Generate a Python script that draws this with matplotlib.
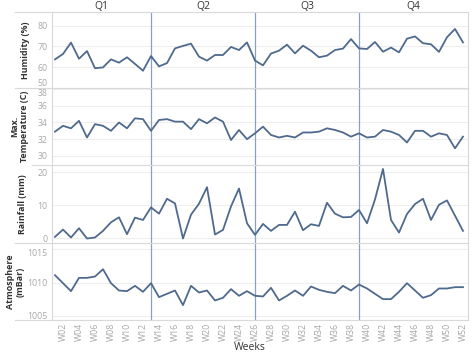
import numpy as np
import matplotlib
matplotlib.use("Agg")
import matplotlib.pyplot as plt
from matplotlib.lines import Line2D
from matplotlib.transforms import blended_transform_factory

plt.rcParams['font.family'] = ['Open Sans', 'DejaVu Sans']

weeks = [f"W{i:02d}" for i in range(1, 53)]
quarters = ['Q1', 'Q2', 'Q3', 'Q4']

humidity = [63.7, 66.3, 71.8, 64.0, 67.7, 59.4, 59.8, 63.7, 62.1, 64.7, 61.5, 58.2, 65.3,
            60.3, 61.9, 69.0, 70.2, 71.3, 65.0, 63.1, 65.8, 65.8, 69.7, 68.2, 71.9, 63.1,
            60.8, 66.5, 67.9, 70.8, 66.6, 70.3, 67.9, 64.7, 65.5, 68.2, 68.9, 73.5, 69.0,
            68.7, 72.1, 67.4, 69.4, 67.1, 73.7, 74.8, 71.5, 71.0, 67.3, 74.4, 78.4, 71.9]
max_temp = [32.9, 33.6, 33.3, 34.2, 32.2, 33.8, 33.6, 33.0, 34.0, 33.3, 34.5, 34.4, 33.0,
            34.3, 34.4, 34.1, 34.1, 33.2, 34.4, 33.9, 34.6, 34.1, 31.9, 33.1, 32.0, 32.7,
            33.5, 32.5, 32.2, 32.4, 32.2, 32.8, 32.8, 32.9, 33.3, 33.1, 32.8, 32.3, 32.7,
            32.2, 32.3, 33.1, 32.9, 32.5, 31.6, 33.0, 33.0, 32.3, 32.7, 32.5, 30.9, 32.3]
rainfall = [0.5, 2.7, 0.3, 3.1, 0.0, 0.3, 2.3, 4.9, 6.4, 1.3, 6.3, 5.6, 9.4,
            7.5, 12.0, 10.6, 0.0, 7.2, 10.5, 15.5, 1.2, 2.6, 9.7, 15.1, 4.6, 1.1,
            4.4, 2.3, 4.1, 4.1, 8.1, 2.5, 4.3, 3.8, 10.8, 7.5, 6.4, 6.5, 8.6,
            4.6, 11.8, 21.0, 5.6, 1.8, 7.4, 10.4, 12.0, 5.6, 10.2, 11.5, 6.9, 2.3]
atmosphere = [1011.1, 1009.9, 1008.7, 1010.7, 1010.7, 1010.9, 1012.0, 1009.9, 1008.8, 1008.7,
              1009.5, 1008.6, 1009.9, 1007.8, 1008.3, 1008.8, 1006.6, 1009.5, 1008.5, 1008.8,
              1007.3, 1007.7, 1009.0, 1008.0, 1008.7, 1008.0, 1007.9, 1009.2, 1007.3, 1008.0,
              1008.8, 1008.0, 1009.4, 1008.9, 1008.6, 1008.4, 1009.5, 1008.8, 1009.7, 1009.1,
              1008.3, 1007.5, 1007.5, 1008.6, 1009.9, 1008.8, 1007.7, 1008.1, 1009.1, 1009.1,
              1009.3, 1009.3]

line_color = '#4f6a8d'
quarter_color = '#8aa0c0'
border_color = '#d9d9d9'
grid_color = '#eeeeee'
tick_color = '#a8a8a8'
text_color = '#333333'

W, H = 474, 354
fig = plt.figure(figsize=(W / 100, H / 100), dpi=100)

# panel edges in pixels (top to bottom)
edges = [12, 88.3, 165, 243.3, 320]
left_px, right_px = 52, 468

panels = [
    (humidity, 'Humidity (%)', (49.7, 86.6), [50, 60, 70, 80], 30),
    (max_temp, 'Max.\nTemperature (C)', (28.9, 38.1), [30, 32, 34, 36, 38], 29),
    (rainfall, 'Rainfall (mm)', (-1.45, 22.2), [0, 10, 20], 27),
    (atmosphere, 'Atmosphere\n(mBar)', (1004.36, 1015.9), [1005, 1010, 1015], 25),
]

x = np.arange(len(weeks))
axes = []
for i, (vals, label, lim, ticks, lab_px) in enumerate(panels):
    top, bot = edges[i], edges[i + 1]
    ax = fig.add_axes([left_px / W, 1 - bot / H, (right_px - left_px) / W, (bot - top) / H])
    ax.plot(x, vals, color=line_color, lw=1.3, zorder=3)
    for q in [12, 25, 38]:
        ax.axvline(q, color=quarter_color, lw=0.9, zorder=2)
    ax.set_xlim(-0.375, 51.625)
    ax.set_ylim(*lim)
    ax.set_yticks(ticks)
    ax.set_yticklabels([str(t) for t in ticks])
    ax.tick_params(axis='y', length=0, pad=3, labelsize=6.3, labelcolor=tick_color)
    ax.grid(axis='y', color=grid_color, lw=0.8, zorder=0)
    for s in ['top', 'bottom']:
        ax.spines[s].set_visible(False)
    ax.spines['left'].set_color(border_color)
    ax.spines['right'].set_color(border_color)
    ax.spines['left'].set_linewidth(0.8)
    ax.spines['right'].set_linewidth(0.8)

    # shift edge labels inside the panel like the original
    for t, lbl in zip(ticks, ax.get_yticklabels()):
        if abs(t - lim[0]) < 0.5:
            lbl.set_va('bottom')
        elif abs(t - lim[1]) < 1.0:
            lbl.set_va('top')

    ax.set_ylabel(label, fontsize=6.4, fontweight='bold', color=text_color, linespacing=1.1)
    ax.yaxis.set_label_coords((lab_px - left_px) / (right_px - left_px), 0.5)

    if i < 3:
        ax.set_xticks([])
    else:
        ax.set_xticks(x[1::2])
        ax.set_xticklabels(weeks[1::2], rotation=90)
        ax.tick_params(axis='x', length=0, pad=2, labelsize=6.3, labelcolor=tick_color)
    axes.append(ax)

# separators across the chart
sep_left = [15, 15, 32, 15, 15]
for y, xl in zip(edges, sep_left):
    fig.add_artist(Line2D([xl / W, right_px / W], [1 - y / H, 1 - y / H],
                          color=border_color, lw=0.8))

# quarter headers
trans = blended_transform_factory(axes[0].transData, fig.transFigure)
for q, cx in zip(quarters, [5.81, 18.5, 31.5, 44.81]):
    axes[0].text(cx, 1 - 6.5 / H, q, transform=trans, ha='center', va='center',
                 fontsize=7.5, color=text_color)

fig.text(250 / W, 1 - 347 / H, 'Weeks', ha='center', va='center',
         fontsize=7.5, color=text_color)

fig.savefig('out.png', dpi=100)
